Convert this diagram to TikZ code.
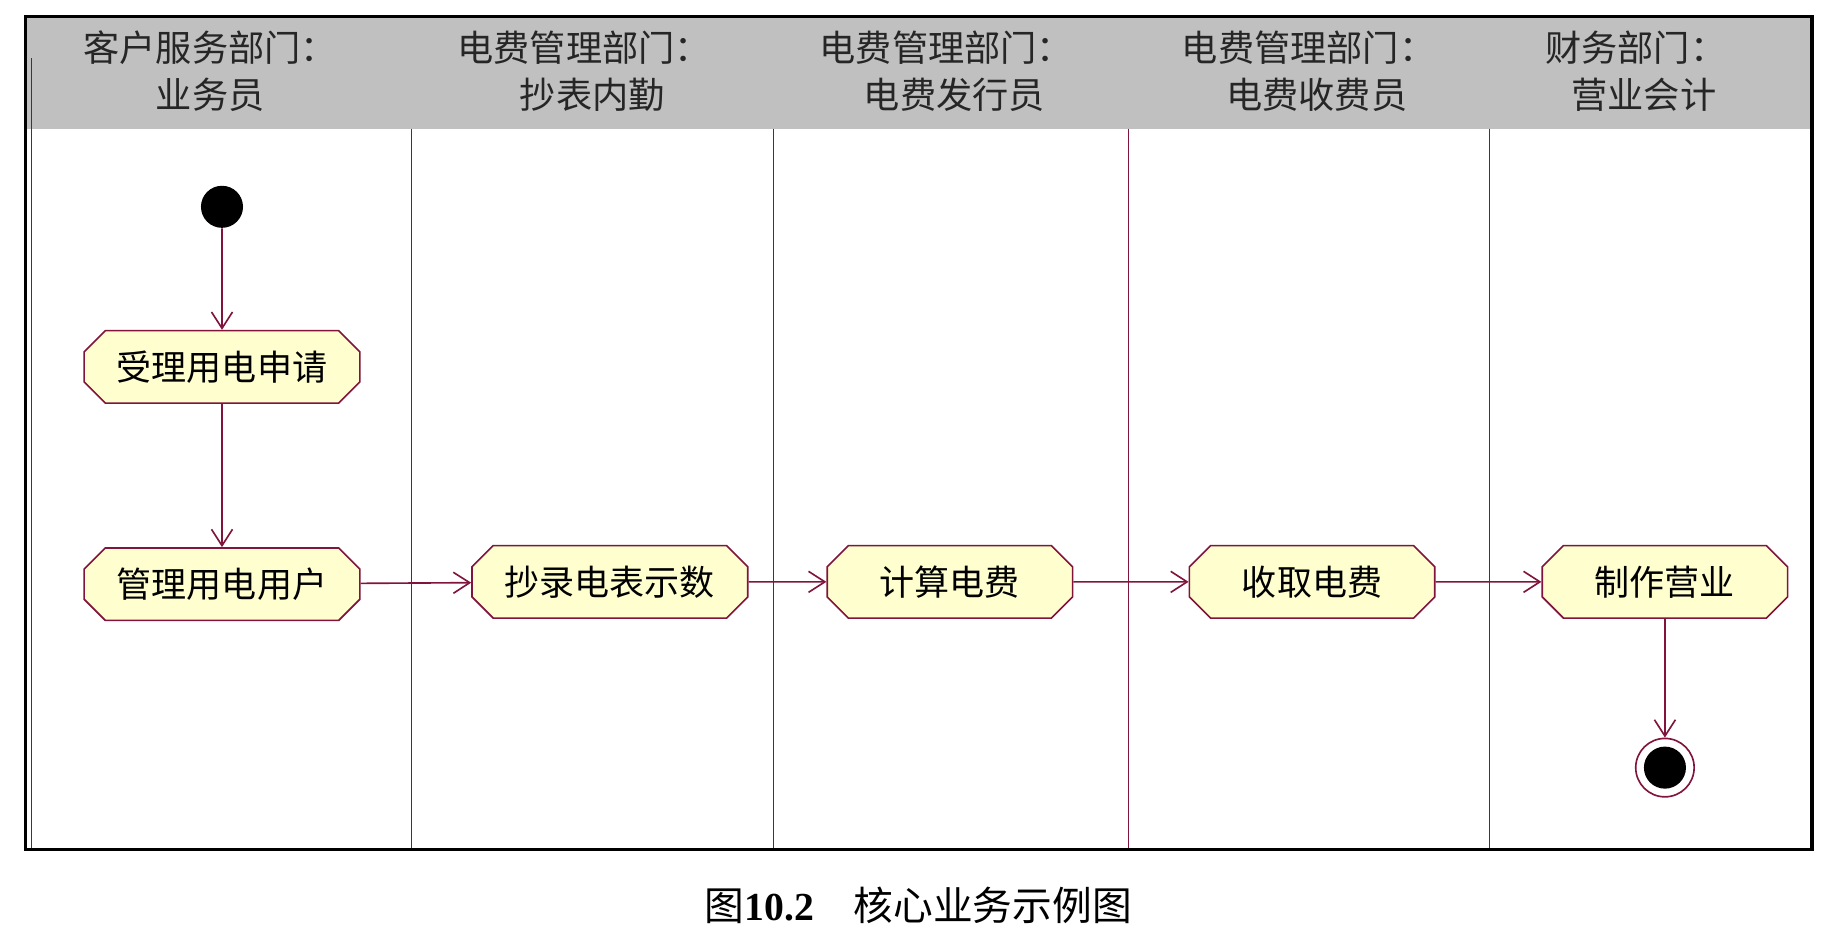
\documentclass[tikz,border=0pt]{standalone}
\usepackage{fontspec}
\setmainfont{Liberation Serif}
\newfontfamily\cjk{Noto Sans CJK SC}
\usetikzlibrary{shapes.misc,arrows.meta}
\definecolor{lane}{RGB}{128,20,60}
\definecolor{act}{RGB}{254,254,206}
\definecolor{hdr}{RGB}{192,192,192}
\begin{document}
\begin{tikzpicture}[x=0.5pt,y=-0.5pt,
  actbox/.style={chamfered rectangle,chamfered rectangle xsep=6pt,draw=lane,fill=act,line width=0.7pt,
    minimum height=31pt,inner sep=2pt,font=\cjk\fontsize{15}{16}\selectfont},
  flow/.style={draw=lane,line width=0.7pt,-{Straight Barb[length=7pt,width=9pt]}},
  hdrtxt/.style={font=\cjk\fontsize{15.5}{20}\selectfont,align=center,text=black!85}]
\useasboundingbox (0,0) rectangle (1568,793);
\fill[hdr] (22,14) rectangle (1551,110);
\foreach \x in {352,662,966,1275} \draw[lane,line width=0.6pt] (\x,110) -- (\x,727);
\draw[lane,line width=0.4pt] (27,50) -- (27,727);
\draw[black,line width=1.5pt] (22,14) rectangle (1551,727);
\node[hdrtxt] (h1) at (180,61) {客户服务部门：\\业务员};
\node[hdrtxt] (h2) at (500,61) {电费管理部门：\\\ \ 抄表内勤};
\node[hdrtxt] (h3) at (810,61) {电费管理部门：\\\ \ 电费发行员};
\node[hdrtxt] (h4) at (1120,61) {电费管理部门：\\\ \ 电费收费员};
\node[hdrtxt] (h5) at (1400,61) {财务部门：\\\ \ 营业会计};
\node[circle,fill=black,minimum size=18pt,inner sep=0] (s) at (190,177) {};
\node[actbox,minimum width=118pt] (a1) at (190,314) {受理用电申请};
\node[actbox,minimum width=118pt] (a2) at (190,500) {管理用电用户};
\node[actbox,minimum width=118pt] (a3) at (522,498) {抄录电表示数};
\node[actbox,minimum width=105pt] (a4) at (813,498) {计算电费};
\node[actbox,minimum width=105pt] (a5) at (1123,498) {收取电费};
\node[actbox,minimum width=105pt] (a6) at (1425,498) {制作营业};
\node[circle,draw=lane,fill=white,line width=0.7pt,minimum size=25pt,inner sep=0] (e) at (1425,657) {};
\node[circle,fill=black,minimum size=18pt,inner sep=0] at (e) {};
\draw[flow] (s) -- (a1);
\draw[flow] (a1) -- (a2);
\draw[flow] (a2) -- (a3);
\draw[flow] (a3) -- (a4);
\draw[flow] (a4) -- (a5);
\draw[flow] (a5) -- (a6);
\draw[flow] (a6) -- (e);
\node[font=\fontsize{17}{18}\selectfont] (cap) at (786,775) {{\cjk 图}\textbf{10.2}\quad{\cjk 核心业务示例图}};
\end{tikzpicture}
\end{document}
